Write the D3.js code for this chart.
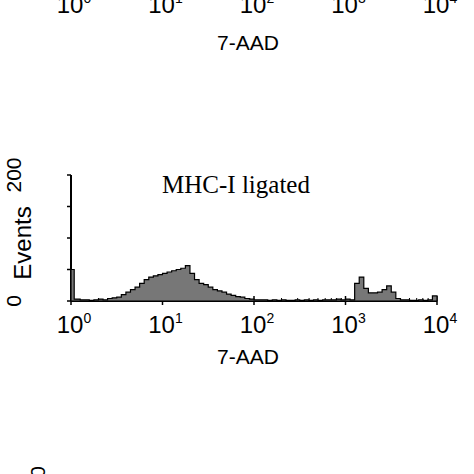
<!DOCTYPE html>
<html>
<head>
<meta charset="utf-8">
<script src="https://cdn.jsdelivr.net/npm/d3@7"></script>
<style>
  body { margin: 0; background: #fff; }
  svg { display: block; }
</style>
</head>
<body>
<svg id="chart" width="474" height="474"></svg>
<script>
// log10 bin starts, 0.05 decade wide
const binStart = d3.range(0, 4, 0.05).map(d => +d.toFixed(2));
// events per bin
const events = [
  50, 3, 2, 2, 1, 2, 3, 2, 4, 5,
  6, 10, 14, 18, 22, 28, 34, 38, 40, 42,
  44, 46, 48, 50, 52, 56, 44, 34, 28, 26,
  22, 18, 16, 14, 11, 9, 7, 6, 4, 3,
  2, 2, 2, 1, 2, 1, 2, 1, 1, 2,
  1, 2, 1, 2, 1, 2, 2, 2, 3, 2,
  3, 2, 28, 38, 20, 13, 13, 14, 18, 24,
  14, 4, 2, 2, 1, 1, 2, 1, 2, 8
];
const decades = [0, 1, 2, 3, 4];
const yTicks = [0, 50, 100, 150, 200];

const svg = d3.select("#chart");
const x = d3.scaleLinear().domain([0, 4]).range([71, 437]);
const y = d3.scaleLinear().domain([0, 200]).range([301, 175]);
const sans = "Liberation Sans, Arial, sans-serif";

// decade tick labels "10^n"
function decadeLabels(yPos) {
  const t = svg.append("g").style("font-family", sans);
  decades.forEach(d => {
    const txt = t.append("text")
      .attr("x", x(d) + 3)
      .attr("y", yPos)
      .attr("text-anchor", "middle")
      .style("font-size", "24px");
    txt.append("tspan").text("10");
    txt.append("tspan").attr("dy", -10).style("font-size", "14px").text(d);
  });
}

// remains of the panel above
decadeLabels(13);
svg.append("text")
  .attr("x", 248).attr("y", 50)
  .attr("text-anchor", "middle")
  .style("font-family", sans)
  .style("font-size", "21px")
  .text("7-AAD");

// histogram as step area; the first bin is a narrow spike on the axis
const pts = [];
binStart.forEach((b, i) => {
  const x0 = i === 1 ? 0.035 : b;
  const x1 = i === 0 ? 0.035 : b + 0.05;
  pts.push([x0, events[i]]);
  pts.push([x1, events[i]]);
});
const area = d3.area().x(d => x(d[0])).y0(y(0)).y1(d => y(d[1]));

// x axis with log minor ticks
const xAxis = svg.append("g").attr("stroke", "#000");
xAxis.append("line")
  .attr("x1", x(0)).attr("x2", x(4))
  .attr("y1", y(0)).attr("y2", y(0))
  .attr("stroke-width", 2);
decades.forEach(d => {
  xAxis.append("line")
    .attr("x1", x(d)).attr("x2", x(d))
    .attr("y1", y(0) - 5).attr("y2", y(0) + 4)
    .attr("stroke-width", 1.5);
  if (d < 4) d3.range(2, 10).forEach(m => {
    const v = d + Math.log10(m);
    xAxis.append("line")
      .attr("x1", x(v)).attr("x2", x(v))
      .attr("y1", y(0) - 3).attr("y2", y(0))
      .attr("stroke-width", 1);
  });
});

// y axis
const yAxis = svg.append("g").attr("stroke", "#000");
yAxis.append("line")
  .attr("x1", x(0)).attr("x2", x(0))
  .attr("y1", y(0)).attr("y2", y(200))
  .attr("stroke-width", 2);
yTicks.forEach(v => {
  yAxis.append("line")
    .attr("x1", x(0) - 4).attr("x2", x(0))
    .attr("y1", y(v)).attr("y2", y(v))
    .attr("stroke-width", 1.5);
});

svg.append("path")
  .datum(pts)
  .attr("d", area)
  .attr("fill", "#777")
  .attr("stroke", "#000")
  .attr("stroke-width", 1.2);

[0, 200].forEach(v => {
  svg.append("text")
    .attr("transform", `translate(21,${y(v)}) rotate(-90)`)
    .attr("text-anchor", "middle")
    .style("font-family", sans)
    .style("font-size", "21px")
    .text(v);
});
svg.append("text")
  .attr("transform", `translate(31,243) rotate(-90)`)
  .attr("text-anchor", "middle")
  .style("font-family", sans)
  .style("font-size", "24px")
  .text("Events");

svg.append("text")
  .attr("x", 236).attr("y", 193)
  .attr("text-anchor", "middle")
  .style("font-family", "Liberation Serif, Times New Roman, serif")
  .style("font-size", "25px")
  .text("MHC-I ligated");

decadeLabels(333);
svg.append("text")
  .attr("x", 248).attr("y", 364)
  .attr("text-anchor", "middle")
  .style("font-family", sans)
  .style("font-size", "21px")
  .text("7-AAD");

// start of the panel below
svg.append("text")
  .attr("transform", `translate(45,466) rotate(-90)`)
  .attr("text-anchor", "end")
  .style("font-family", sans)
  .style("font-size", "21px")
  .text("200");
</script>
</body>
</html>
